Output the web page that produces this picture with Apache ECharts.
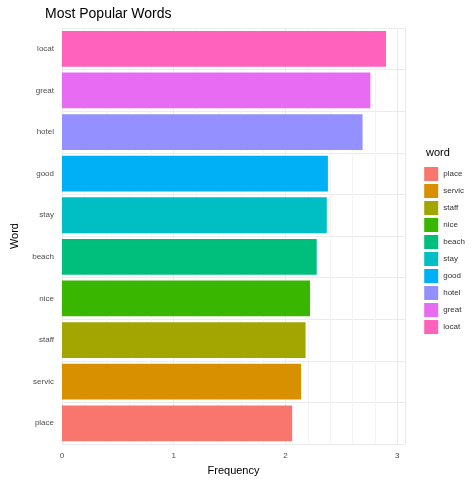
<!DOCTYPE html><html><head><meta charset="utf-8"><script src="https://cdn.jsdelivr.net/npm/echarts@6/dist/echarts.min.js"></script></head><body style="margin:0"><div id="c" style="width:474px;height:481px"></div><script>
const categories=['place','servic','staff','nice','beach','stay','good','hotel','great','locat'];
const values=[2.06,2.14,2.18,2.22,2.28,2.37,2.38,2.69,2.76,2.90];
const colors=['#F8766D','#D89000','#A3A500','#39B600','#00BF7D','#00BFC4','#00B0F6','#9590FF','#E76BF3','#FF62BC'];
const ticks=[0,1,2,3];
const ch=echarts.init(document.getElementById('c'));
const series=categories.map((c,i)=>({name:c,type:'bar',stack:'s',barWidth:'86%',
 data:categories.map((_,j)=>j===i?values[i]:null),itemStyle:{color:colors[i]}}));
ch.setOption({animation:false,textStyle:{fontFamily:'Liberation Sans'},
 title:{text:'Most Popular Words',left:40,top:2,textStyle:{fontSize:14,fontWeight:'normal',color:'#000'}},
 grid:{left:62,right:69,top:28,bottom:32},
 legend:{orient:'vertical',right:4,top:162,itemWidth:14,itemHeight:14,itemGap:3,icon:'rect',
  data:categories,textStyle:{fontSize:8,color:'#333'},
  title:{}},
 graphic:[{type:'text',left:426,top:147,style:{text:'word',fontSize:11,fill:'#000'}}],
 xAxis:{type:'value',min:0,max:3.07,interval:1,name:'Frequency',nameLocation:'middle',nameGap:20,
  nameTextStyle:{fontSize:11,color:'#000'},axisLine:{show:false},axisTick:{show:false},
  axisLabel:{fontSize:8,color:'#4d4d4d',formatter:v=>ticks.includes(v)?v:''},
  splitLine:{lineStyle:{color:'#ebebeb'}},minorTick:{show:false},minorSplitLine:{show:true,splitNumber:2,lineStyle:{color:'#f4f4f4'}}},
 yAxis:{type:'category',data:categories,name:'Word',nameLocation:'middle',nameGap:42,nameTextStyle:{fontSize:11,color:'#000'},
  axisLine:{show:false},axisTick:{show:false},axisLabel:{fontSize:8,color:'#4d4d4d'},
  splitLine:{show:true,lineStyle:{color:'#ebebeb'}}},
 series});
</script></body></html>
